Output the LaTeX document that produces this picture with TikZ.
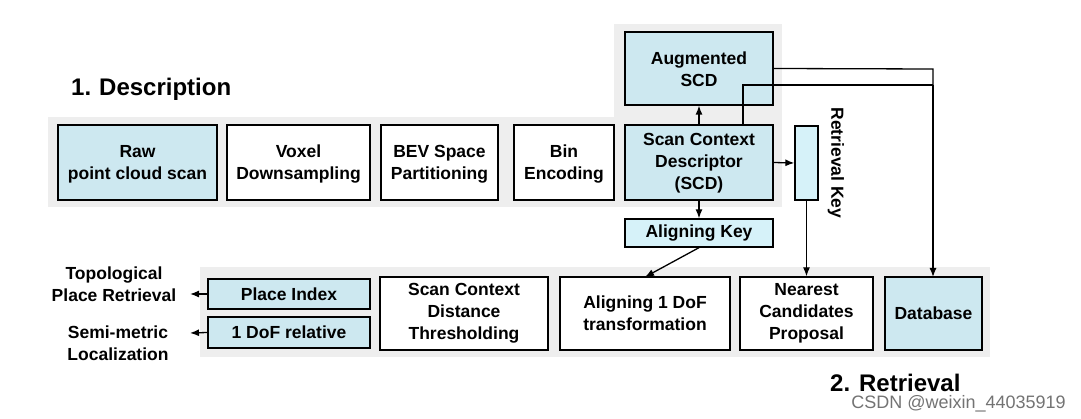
\documentclass[tikz,border=0pt]{standalone}
\usepackage{fontspec}
\setmainfont{Liberation Sans}
\usetikzlibrary{arrows.meta}
\definecolor{bl}{HTML}{CDE8F0}
\definecolor{bl2}{HTML}{D6F2F9}
\definecolor{gb}{HTML}{EEEEEE}
\begin{document}
\begin{tikzpicture}[x=1pt,y=-1pt,
 box/.style={draw=black,line width=1.3pt,align=center,inner sep=0},
 lab/.style={font=\bfseries\fontsize{17.5}{22}\selectfont,align=center},
 arr/.style={-{Latex[length=9pt,width=7pt]},line width=1.3pt}]
\useasboundingbox (0,0) rectangle (1081,419);
\fill[gb] (48,117) rectangle (782,207);
\fill[gb] (614,24) rectangle (782,117);
\fill[gb] (200,267) rectangle (990,357);
\newcommand{\bx}[6]{\node[box,fill=#6,minimum width=#4-#2,minimum height=#5-#3] (#1) at ({(#2+#4)/2},{(#3+#5)/2}) {};}
\bx{raw}{58}{125}{217}{200}{bl}\node[lab] at ([yshift=-2pt]raw) {Raw\\point cloud scan};
\bx{vox}{227}{125}{370}{200}{white}\node[lab] at ([yshift=-2pt]vox) {Voxel\\Downsampling};
\bx{bev}{381}{125}{498}{200}{white}\node[lab] at ([yshift=-2pt]bev) {BEV Space\\Partitioning};
\bx{bin}{514}{125}{614}{200}{white}\node[lab] at ([yshift=-2pt]bin) {Bin\\Encoding};
\bx{scd}{625}{125}{773}{200}{bl}\node[lab] at ([yshift=-1pt]scd) {Scan Context\\Descriptor\\(SCD)};
\bx{aug}{625}{32}{773}{105}{bl}\node[lab] at ([yshift=-1pt]aug) {Augmented\\SCD};
\bx{rk}{795}{126}{818}{200}{bl2}
\node[lab,rotate=-90] (rkl) at (836,163) {Retrieval Key};
\bx{ak}{625}{219}{773}{247}{bl2}\node[lab] at (ak) {Aligning Key};
\bx{pi}{208}{279}{370}{309}{bl}\node[lab] at (pi) {Place Index};
\bx{dof}{208}{317}{370}{348}{bl}\node[lab] at (dof) {1 DoF relative};
\bx{thr}{380}{277}{548}{350}{white}\node[lab] at (thr) {Scan Context\\Distance\\Thresholding};
\bx{al}{560}{277}{730}{350}{white}\node[lab] at (al) {Aligning 1 DoF\\transformation};
\bx{nc}{740}{277}{873}{350}{white}\node[lab] at (nc) {Nearest\\Candidates\\Proposal};
\bx{db}{885}{277}{982}{350}{bl}\node[lab] at (db) {Database};
\node[lab,inner sep=1pt] (tpr) at (114,284) {Topological\\Place Retrieval};
\node[lab,inner sep=1pt] (sml) at (118,343) {Semi-metric\\Localization};
\node[font=\bfseries\fontsize{24}{28}\selectfont,anchor=west,inner sep=0] (t1) at (71,89) {1.\,\,Description};
\node[font=\bfseries\fontsize{24}{28}\selectfont,anchor=west,inner sep=0] (t2) at (830,383) {2. Retrieval};
\node[font=\fontsize{18}{21}\selectfont,text=black!55,anchor=east,inner sep=0] (wm) at (1066,404) {CSDN @weixin\_44035919};
\coordinate (j) at (933,85);
\draw[arr] (scd.north) -- (aug.south);
\draw[arr] (scd.south) -- (ak.north);
\draw[arr] (scd.east) -- (rk.west);
\draw[arr] (rk.south) -- (rk.south |- nc.north);
\draw[arr] (ak.south) -- (645,277);
\draw[line width=1.3pt] (aug.east) -- (933,69) -- (j);
\draw[line width=1.3pt] (743,125) -- (743,85) -- (j);
\draw[arr] (j) -- (933,277);
\draw[arr] (pi.west) -- (190,294);
\draw[arr] (dof.west) -- (190,333);
\end{tikzpicture}
\end{document}
